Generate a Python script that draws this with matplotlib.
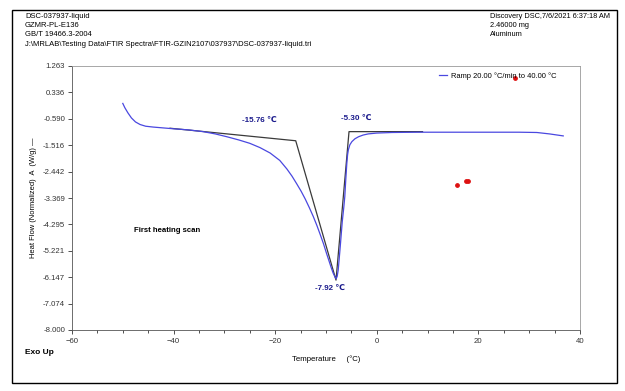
import matplotlib.pyplot as plt
from matplotlib.patches import Rectangle
from matplotlib.ticker import MultipleLocator

plt.rcParams['font.family'] = ['Liberation Sans', 'DejaVu Sans']

# Heat flow curve
temperature = [-50.0, -49.6, -49.0, -48.3, -47.5, -46.6, -45.5, -44.0, -42.0, -40.0,
               -37.0, -34.2, -31.8, -29.5, -27.2, -25.0, -23.0, -21.0, -19.1, -17.7,
               -16.7, -15.8, -14.9, -14.1, -13.3, -12.5, -11.8, -11.2, -10.5, -9.9,
               -9.4, -9.0, -8.6, -8.2, -8.0, -7.8, -7.6, -7.4, -7.2, -6.8,
               -6.5, -6.3, -6.1, -5.9, -5.75, -5.6, -5.3, -4.9, -4.3, -3.6,
               -2.7, -1.7, 0.0, 3.0, 8.0, 15.0, 22.0, 28.0, 31.5, 34.0, 36.7]
heat_flow = [-0.05, -0.20, -0.38, -0.56, -0.70, -0.79, -0.85, -0.88, -0.91, -0.94,
             -0.98, -1.04, -1.12, -1.22, -1.33, -1.45, -1.60, -1.79, -2.05, -2.35,
             -2.60, -2.86, -3.13, -3.40, -3.70, -4.02, -4.33, -4.62, -4.97, -5.31,
             -5.58, -5.80, -6.00, -6.15, -6.20, -6.12, -5.90, -5.50, -5.08, -4.20,
             -3.70, -3.32, -2.70, -2.15, -1.85, -1.68, -1.50, -1.39, -1.29, -1.22,
             -1.16, -1.12, -1.09, -1.07, -1.06, -1.06, -1.06, -1.06, -1.07, -1.12, -1.19]

# Tangent construction (onset / peak / endset)
tangent_t = [-40.7, -15.96, -8.03, -5.47, 9.0]
tangent_hf = [-0.92, -1.36, -6.25, -1.04, -1.04]

peak_labels = ['-15.76 ℃', '-7.92 ℃', '-5.30 ℃']
label_t = [-23.2, -9.2, -4.1]
label_hf = [-0.63, -6.55, -0.56]

stray_t = [27.3, 15.7, 17.6, 18.0]
stray_hf = [0.83, -2.91, -2.77, -2.76]

yticks = [1.263, 0.336, -0.590, -1.516, -2.442, -3.369, -4.295, -5.221, -6.147, -7.074, -8.000]

header_left = ['DSC-037937-liquid', 'GZMR-PL-E136', 'GB/T 19466.3-2004',
               'J:\\MRLAB\\Testing Data\\FTIR Spectra\\FTIR-GZIN2107\\037937\\DSC-037937-liquid.tri']
header_right = ['Discovery DSC,7/6/2021 6:37:18 AM', '2.46000 mg', 'Aluminum']

fig = plt.figure(figsize=(6.25, 3.91), dpi=100)
fig.patches.append(Rectangle((12 / 625, 1 - 383 / 391), 605 / 625, 373 / 391,
                             transform=fig.transFigure, fill=False, lw=1.0, ec='black'))

ax = fig.add_axes([72 / 625, 1 - 330 / 391, 508 / 625, 264 / 391])
ax.plot(tangent_t, tangent_hf, color='#3a3a3a', lw=0.9)
ax.plot(temperature, heat_flow, color='#4a48e0', lw=0.9,
        label='Ramp 20.00 °C/min to 40.00 °C')
ax.scatter(stray_t, stray_hf, s=6, color='#dd1111', zorder=5)

for txt, t, hf in zip(peak_labels, label_t, label_hf):
    ax.text(t, hf, txt, color='#1a1a8c', fontsize=5.8, fontweight='bold', ha='center', va='center')
ax.text(-47.8, -4.5, 'First heating scan', fontsize=5.6, fontweight='bold', va='center')

ax.set_xlim(-60, 40)
ax.set_ylim(-8.0, 1.263)
ax.set_yticks(yticks)
ax.set_yticklabels([f'{v:.3f}' for v in yticks])
ax.xaxis.set_major_locator(MultipleLocator(20))
ax.xaxis.set_minor_locator(MultipleLocator(5))
ax.tick_params(direction='out', length=3, width=0.6, labelsize=5.6, colors='#333333', pad=2)
ax.tick_params(which='minor', direction='out', length=2, width=0.6, colors='#333333')
ax.tick_params(axis='x', pad=3)
for sp in ax.spines.values():
    sp.set_color('#999999')
    sp.set_linewidth(0.6)
ax.spines['left'].set_color('#555555')
ax.spines['bottom'].set_color('#555555')

ax.set_xlabel('Temperature     (°C)', fontsize=5.6, labelpad=7)
ax.set_ylabel('Heat Flow (Normalized)  A  (W/g) —', fontsize=5.4, labelpad=4)

ax.legend(loc='upper right', fontsize=5.4, frameon=False, handlelength=1.0,
          handletextpad=0.5, borderaxespad=0.4, bbox_to_anchor=(0.965, 1.0))

y0 = 1 - 16 / 391
for i, line in enumerate(header_left):
    fig.text(25 / 625, y0 - i * 9.4 / 391, line, fontsize=5.5, va='center')
for i, line in enumerate(header_right):
    fig.text(490 / 625, y0 - i * 9.4 / 391, line, fontsize=5.3, va='center')
fig.text(25 / 625, 1 - 352 / 391, 'Exo Up', fontsize=6, fontweight='bold', va='center')

fig.savefig('out.png', dpi=100)
